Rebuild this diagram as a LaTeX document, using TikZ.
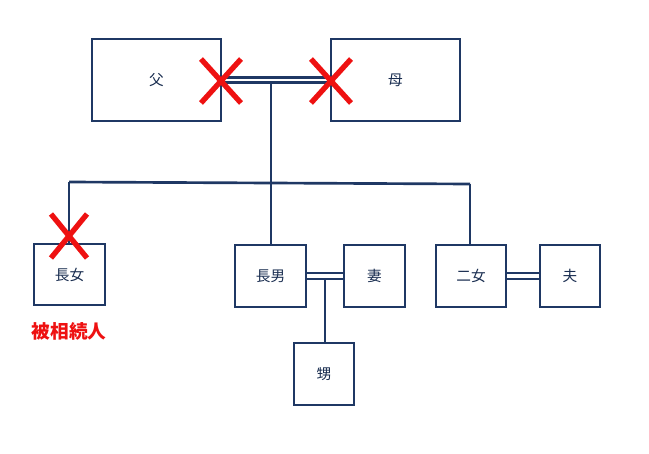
\documentclass[tikz,border=0pt]{standalone}
\usepackage{fontspec}
\setmainfont{Noto Sans CJK JP}
\begin{document}
\begin{tikzpicture}[x=0.75pt,y=-0.75pt]
\definecolor{navy}{HTML}{1F3864}
\definecolor{xred}{HTML}{EE1111}
\tikzset{box/.style={draw=navy,line width=1.3pt,fill=white,minimum width=#1,inner sep=0pt,text=navy!80!black,font=\fontsize{11}{13}\selectfont},
 ln/.style={draw=navy,line width=2pt},
 dbl/.style={draw=navy,line width=1.6pt},
 xx/.style={draw=xred,line width=4pt}}
\useasboundingbox (0,0) rectangle (649,453);
\node[box=129*0.75pt,minimum height=82*0.75pt] (f) at (156.5,80) {父};
\node[box=129*0.75pt,minimum height=82*0.75pt] (m) at (395.5,80) {母};
\node[box=71*0.75pt,minimum height=61*0.75pt] (c1) at (69.5,274.5) {長女};
\node[box=71*0.75pt,minimum height=62*0.75pt] (c2) at (270.5,276) {長男};
\node[box=61*0.75pt,minimum height=62*0.75pt] (w) at (374.5,276) {妻};
\node[box=70*0.75pt,minimum height=62*0.75pt] (c3) at (471,276) {二女};
\node[box=60*0.75pt,minimum height=62*0.75pt] (h) at (570,276) {夫};
\node[box=60*0.75pt,minimum height=62*0.75pt] (n) at (324,374) {甥};
\coordinate (fm) at (271,82);
\coordinate (bl) at (69,182);
\coordinate (bm) at (271,183);
\coordinate (br) at (470,184);
\coordinate (cw) at (325,280);
\draw[dbl] ([yshift=-2.5*0.75pt]f.east) -- ([yshift=-2.5*0.75pt]m.west);
\draw[dbl] ([yshift=2.5*0.75pt]f.east) -- ([yshift=2.5*0.75pt]m.west);
\draw[ln] (fm) -- (bm);
\draw[ln] (bl) -- (bm) -- (br);
\draw[ln] (bl) -- (bl |- c1.north);
\draw[ln] (bm) -- (bm |- c2.north);
\draw[ln] (br) -- (br |- c3.north);
\draw[dbl] ([yshift=-3*0.75pt]c2.east) -- ([yshift=-3*0.75pt]w.west);
\draw[dbl] ([yshift=3*0.75pt]c2.east) -- ([yshift=3*0.75pt]w.west);
\draw[dbl] ([yshift=-3*0.75pt]c3.east) -- ([yshift=-3*0.75pt]h.west);
\draw[dbl] ([yshift=3*0.75pt]c3.east) -- ([yshift=3*0.75pt]h.west);
\draw[ln] (cw) -- (cw |- n.north);
\draw[xx] (201,59) -- (241,103) (201,103) -- (241,59);
\draw[xx] (311,59) -- (351,103) (311,103) -- (351,59);
\draw[xx] (51,214) -- (87,258) (51,258) -- (87,214);
\node[text=xred,font=\fontsize{14}{16}\selectfont\bfseries] (lbl) at (69,331) {被相続人};
\end{tikzpicture}
\end{document}
